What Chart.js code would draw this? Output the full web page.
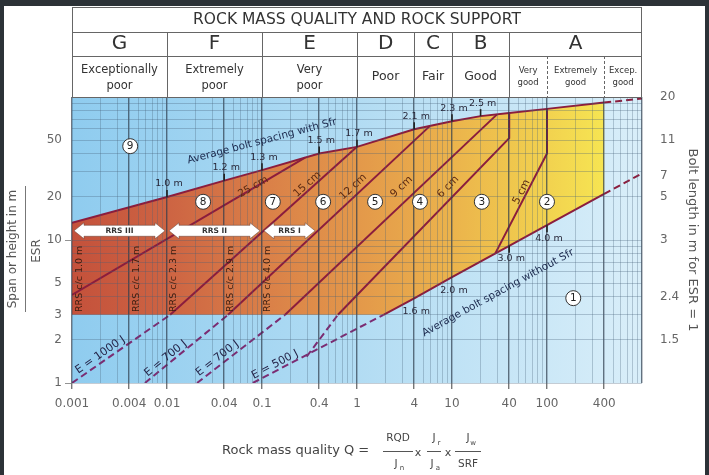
<!DOCTYPE html>
<html><head><meta charset="utf-8">
<script src="https://cdn.jsdelivr.net/npm/chart.js@4.4.1/dist/chart.umd.min.js"></script>
<style>
html,body{margin:0;padding:0;background:#2c3237;width:709px;height:475px;overflow:hidden}
#panel{position:absolute;left:4px;top:6px;width:701px;height:469px;background:#fff}
#c{position:absolute;left:0;top:0}
</style></head><body>
<div id="panel"></div>
<canvas id="c" width="709" height="475"></canvas>
<script>
// ---------------- DATA ----------------
const chartTitle = 'ROCK MASS QUALITY AND ROCK SUPPORT';
const classBounds = [0.001, 0.01, 0.1, 1, 4, 10, 40, 1000];
const classLetters = ['G','F','E','D','C','B','A'];
const classNames = [['Exceptionally','poor'],['Extremely','poor'],['Very','poor'],['Poor'],['Fair'],['Good']];
const subBounds = [40, 100, 400, 1000];
const subNames = [['Very','good'],['Extremely','good'],['Excep.','good']];

const xTickValues = [0.001,0.004,0.01,0.04,0.1,0.4,1,4,10,40,100,400];
const xTickLabels = ['0.001','0.004','0.01','0.04','0.1','0.4','1','4','10','40','100','400'];
const yTickValues = [1,2,3,5,10,20,50];
const yTickLabels = ['1','2','3','5','10','20','50'];
const boltTickValues = [100,50,28,20,10,4,2];
const boltTickLabels = ['20','11','7','5','3','2.4','1.5'];

// Average bolt spacing with Sfr (upper boundary)
const withSfrQ = [0.001,0.01,0.04,0.1,0.4,1,4,10,20,40,100,400];
const withSfrS = [13.2,20,26,30.8,40.3,44.8,59.5,67.6,73.5,77.3,82.6,91.4];
const withSfrSpacing = [null,'1.0 m','1.2 m','1.3 m','1.5 m','1.7 m','2.1 m','2.3 m','2.5 m',null,null,null];
const withSfrExtQ = [400,1000];
const withSfrExtS = [91.4,97.5];

// Average bolt spacing without Sfr (lower boundary)
const bottomQ = [0.001];
const bottomS = [3];
const withoutSfrQ = [1.9,4,10,40,100,400];
const withoutSfrS = [3,3.9,5.5,9.1,12.7,21];
const withoutSfrSpacing = [null,'1.6 m','2.0 m','3.0 m','4.0 m',null];
const withoutSfrTick = [false,false,false,true,true,false];
const withoutSfrExtQ = [400,1000];
const withoutSfrExtS = [21,29.2];

// shotcrete thickness lines and energy absorption (dashed) lines
const line25Q = [0.001,0.284],  line25S = [4.13,37.7];
const e1000Q = [0.001,0.0108],  e1000S = [1,3];
const line15Q = [0.0108,1],     line15S = [3,44.8];
const e700aQ = [0.00586,0.0439], e700aS = [1,3];
const line12Q = [0.0439,5.87],  line12S = [3,62.8];
const e700bQ = [0.0207,0.175],  e700bS = [1,3];
const line9Q = [0.175,29.8],    line9S = [3,75.6];
const e500Q = [0.08,1.9],       e500S = [1,3];
const line6dQ = [0.295,0.63],   line6dS = [1.53,3];
const line6Q = [0.63,40,40],    line6S = [3,51.5,77.3];
const line5Q = [28.4,100,100],  line5S = [8.0,40.3,82.6];

const shotLabels = ['25 cm','15 cm','12 cm','9 cm','6 cm','5 cm'];
const shotLabelQ = [0.081,0.3,0.91,2.95,9.1,54];
const shotLabelS = [23.5,24.5,23.5,23.5,23.5,21.7];

const energyLabels = ['E = 1000 J','E = 700 J','E = 700 J','E = 500 J'];
const energyLabelQ = [0.0021,0.0103,0.036,0.143];
const energyLabelS = [1.49,1.415,1.415,1.27];

const zoneNums = ['1','2','3','4','5','6','7','8','9'];
const zoneQ = [189,100,20.6,4.6,1.55,0.44,0.13,0.024,0.0041];
const zoneS = [3.92,18.5,18.5,18.5,18.5,18.5,18.5,18.5,45.3];

const rrsNames = ['RRS III','RRS II','RRS I'];
const rrsFromQ = [0.001,0.01,0.1];
const rrsToQ = [0.01,0.1,0.38];
const rrsS = 11.6;
const rrsCc = ['RRS c/c 1.0 m','RRS c/c 1.7 m','RRS c/c 2.3 m','RRS c/c 2.9 m','RRS c/c 4.0 m'];
const rrsCcQ = [0.00116,0.00468,0.0114,0.046,0.112];
const rrsCcS = 5.35;

const withSfrText = 'Average bolt spacing with Sfr';
const withSfrTextQ = 0.1, withSfrTextS = 49;
const withoutSfrText = 'Average bolt spacing without Sfr';
const withoutSfrTextQ = 30.5, withoutSfrTextS = 4.27;

// ---------------- HELPERS ----------------
const FONT = "'DejaVu Sans', Arial, sans-serif";
const LINE = '#8b1d3d';
const EDASH = '#7b2c72';
function pts(q,s){return q.map((v,i)=>({x:v,y:s[i]}));}
function ds(q,s,extra){return Object.assign({type:'line',data:pts(q,s),borderColor:LINE,borderWidth:2,pointRadius:0,pointHoverRadius:0,fill:false,tension:0,order:1},extra||{});}
function near(a,b){return Math.abs(a/b-1)<1e-6;}
function mant(v){const d=Math.floor(Math.log10(v)+1e-9);return v/Math.pow(10,d);}
function isMajor(v){const m=mant(v);return Math.abs(m-1)<1e-6||Math.abs(m-4)<1e-6;}
function logTicks(lo,hi){const t=[];for(let d=Math.round(Math.log10(lo));d<Math.round(Math.log10(hi));d++){for(let m=1;m<10;m++)t.push({value:m*Math.pow(10,d)});}t.push({value:hi});return t;}

const polyQ = withSfrQ.concat(withoutSfrQ.slice().reverse(), bottomQ);
const polyS = withSfrS.concat(withoutSfrS.slice().reverse(), bottomS);

const bgPlugin = {
  id:'bg',
  beforeDatasetsDraw(ch){
    const c=ch.ctx,a=ch.chartArea;
    const g=c.createLinearGradient(a.left,0,a.right,0);
    g.addColorStop(0,'#8fccef');g.addColorStop(0.5,'#b2dcf3');g.addColorStop(1,'#d9eef9');
    c.save();c.fillStyle=g;c.fillRect(a.left,a.top,a.right-a.left,a.bottom-a.top);c.restore();
  }
};

function rtext(c,txt,x,y,ang,font,color,off){
  c.save();c.translate(x,y);c.rotate(ang);c.font=font;c.fillStyle=color;c.textAlign='center';c.textBaseline='middle';c.fillText(txt,0,-(off||0));c.restore();
}

const annot = {
  id:'annot',
  afterDraw(ch){
    const c=ch.ctx,xs=ch.scales.x,ys=ch.scales.y;
    const X=v=>xs.getPixelForValue(v),Y=v=>ys.getPixelForValue(v);
    const ang=(q1,s1,q2,s2)=>Math.atan2(Y(s2)-Y(s1),X(q2)-X(q1));
    const L=xs.left,R=xs.right,T0=7,T1=32,T2=56,T3=ch.chartArea.top;
    c.save();
    // ---- header table ----
    c.fillStyle='#fff';c.fillRect(L,T0,R-L,T3-T0);
    c.strokeStyle='#666';c.lineWidth=1;
    const ln=(x1,y1,x2,y2)=>{c.beginPath();c.moveTo(x1,y1);c.lineTo(x2,y2);c.stroke();};
    c.strokeRect(L+0.5,T0+0.5,R-L-1,T3-T0);
    ln(L,T1+0.5,R,T1+0.5);ln(L,T2+0.5,R,T2+0.5);
    for(let i=1;i<classBounds.length-1;i++){const x=Math.round(X(classBounds[i]))+0.5;ln(x,T1,x,T3);}
    c.setLineDash([3,2]);
    for(let i=1;i<subBounds.length-1;i++){const x=Math.round(X(subBounds[i]))+0.5;ln(x,T2,x,T3);}
    c.setLineDash([]);
    c.fillStyle='#333';c.textAlign='center';c.textBaseline='middle';
    c.font='15.5px '+FONT;c.fillText(chartTitle,(L+R)/2,20);
    c.font='20px '+FONT;
    for(let i=0;i<classLetters.length;i++){const cx=(X(classBounds[i])+X(classBounds[i+1]))/2;c.fillText(classLetters[i],cx,44);}
    for(let i=0;i<classNames.length;i++){
      const cx=(X(classBounds[i])+X(classBounds[i+1]))/2;const n=classNames[i];
      if(n.length===2){c.font='11.5px '+FONT;c.fillText(n[0],cx,70);c.fillText(n[1],cx,86);}
      else{c.font='12.5px '+FONT;c.fillText(n[0],cx,77);}
    }
    c.font='8.5px '+FONT;
    for(let i=0;i<subNames.length;i++){const cx=(X(subBounds[i])+X(subBounds[i+1]))/2;c.fillText(subNames[i][0],cx,71);c.fillText(subNames[i][1],cx,83);}

    // ---- boundary spacing ticks and labels ----
    c.strokeStyle='#222';c.lineWidth=1.6;c.fillStyle='#2a2a3c';c.font='9.5px '+FONT;
    for(let i=0;i<withSfrQ.length;i++){
      if(!withSfrSpacing[i])continue;const px=X(withSfrQ[i]),py=Y(withSfrS[i]);
      ln(px,py,px,py-7);c.fillText(withSfrSpacing[i],px+2,py-13);
    }
    for(let i=0;i<withoutSfrQ.length;i++){
      if(!withoutSfrSpacing[i])continue;const px=X(withoutSfrQ[i]),py=Y(withoutSfrS[i]);
      if(withoutSfrTick[i])ln(px,py,px,py+7);c.fillText(withoutSfrSpacing[i],px+2,py+13);
    }
    // ---- boundary texts ----
    rtext(c,withSfrText,X(withSfrTextQ),Y(withSfrTextS),ang(0.01,20,1,44.8),'10.5px '+FONT,'#1d2b4f');
    rtext(c,withoutSfrText,X(withoutSfrTextQ),Y(withoutSfrTextS),ang(withoutSfrQ[0],withoutSfrS[0],withoutSfrQ[5],withoutSfrS[5]),'10.5px '+FONT,'#1d2b4f');
    // ---- shotcrete labels ----
    const shotLines=[[line25Q,line25S],[line15Q,line15S],[line12Q,line12S],[line9Q,line9S],[line6Q,line6S],[line5Q,line5S]];
    for(let i=0;i<shotLabels.length;i++){const [q,s]=shotLines[i];rtext(c,shotLabels[i],X(shotLabelQ[i]),Y(shotLabelS[i]),ang(q[0],s[0],q[1],s[1]),'10.5px '+FONT,'#5b2a12');}
    // ---- energy labels ----
    const eLines=[[e1000Q,e1000S],[e700aQ,e700aS],[e700bQ,e700bS],[e500Q,e500S]];
    for(let i=0;i<energyLabels.length;i++){const [q,s]=eLines[i];rtext(c,energyLabels[i],X(energyLabelQ[i]),Y(energyLabelS[i]),ang(q[0],s[0],q[1],s[1]),'11px '+FONT,'#26264a',4);}
    // ---- RRS c/c vertical labels ----
    for(let i=0;i<rrsCc.length;i++){rtext(c,rrsCc[i],X(rrsCcQ[i])+1,Y(rrsCcS),-Math.PI/2,'9.5px '+FONT,'#3b1d10');}
    // ---- RRS arrows ----
    const ay=Y(rrsS);
    for(let i=0;i<rrsNames.length;i++){
      const x1=X(rrsFromQ[i])+2,x2=X(rrsToQ[i])-2,hl=10,bh=5.5,hh=8;
      c.beginPath();c.moveTo(x1,ay);c.lineTo(x1+hl,ay-hh);c.lineTo(x1+hl,ay-bh);c.lineTo(x2-hl,ay-bh);c.lineTo(x2-hl,ay-hh);
      c.lineTo(x2,ay);c.lineTo(x2-hl,ay+hh);c.lineTo(x2-hl,ay+bh);c.lineTo(x1+hl,ay+bh);c.lineTo(x1+hl,ay+hh);c.closePath();
      c.fillStyle='#fff';c.fill();c.strokeStyle='rgba(110,70,60,0.7)';c.lineWidth=0.8;c.stroke();
      c.fillStyle='#333';c.font='bold 7.5px '+FONT;c.textAlign='center';c.textBaseline='middle';c.fillText(rrsNames[i],(x1+x2)/2,ay+0.5);
    }
    // ---- zone circles ----
    for(let i=0;i<zoneNums.length;i++){
      const px=X(zoneQ[i]),py=Y(zoneS[i]);
      c.beginPath();c.arc(px,py,7.5,0,Math.PI*2);c.fillStyle='#fff';c.fill();c.strokeStyle='#333';c.lineWidth=1;c.stroke();
      c.fillStyle='#222';c.font='10.5px '+FONT;c.textAlign='center';c.textBaseline='middle';c.fillText(zoneNums[i],px,py+0.5);
    }
    // ---- axis titles ----
    rtext(c,'Span or height in m',13,249,-Math.PI/2,'12px '+FONT,'#555');
    c.strokeStyle='#777';c.lineWidth=1;ln(25.5,186,25.5,312);
    rtext(c,'ESR',37,251,-Math.PI/2,'12px '+FONT,'#555');
    rtext(c,'Bolt length in m for ESR = 1',692,240,Math.PI/2,'13px '+FONT,'#555');
    // ---- formula ----
    c.fillStyle='#444';c.textBaseline='middle';
    c.font='13px '+FONT;c.textAlign='right';c.fillText('Rock mass quality',340,451);
    c.textAlign='left';c.fillText('Q =',344,451);
    const frac=(cx,w,num,den,dsub)=>{
      c.font='10.5px '+FONT;c.textAlign='center';c.fillText(num.t,cx,438);
      if(num.s){c.font='7px '+FONT;c.fillText(num.s,cx+5,443);}
      c.strokeStyle='#555';c.lineWidth=1;ln(cx-w/2,451.5,cx+w/2,451.5);
      c.font='10.5px '+FONT;c.fillText(den,cx-(dsub?2:0),464);
      if(dsub){c.font='7px '+FONT;c.fillText(dsub,cx+4,468);}
    };
    frac(398,30,{t:'RQD'},'J','n');
    c.font='11px '+FONT;c.textAlign='center';c.fillText('x',418,453);
    frac(434,14,{t:'J',s:'r'},'J','a');
    c.font='11px '+FONT;c.textAlign='center';c.fillText('x',448,453);
    frac(468,26,{t:'J',s:'w'},'SRF',null);
    c.restore();
  }
};

const fillGrad = (ctx)=>{
  const ch=ctx.chart,a=ch.chartArea;if(!a)return 'rgba(220,130,70,1)';
  const g=ch.ctx.createLinearGradient(a.left,0,a.right,0);
  g.addColorStop(0,'#c4513b');g.addColorStop(0.17,'#cd6443');g.addColorStop(0.33,'#d97e48');
  g.addColorStop(0.5,'#e3984a');g.addColorStop(0.66,'#ebb24c');g.addColorStop(0.77,'#efc64d');g.addColorStop(0.93,'#f6e452');
  return g;
};

const datasets = [
  {type:'line',data:pts(polyQ,polyS),fill:'shape',backgroundColor:fillGrad,borderWidth:0,pointRadius:0,tension:0,order:5},
  ds(withSfrQ,withSfrS),
  ds(withSfrExtQ,withSfrExtS,{borderDash:[7,4]}),
  ds(withoutSfrQ,withoutSfrS),
  ds(withoutSfrExtQ,withoutSfrExtS,{borderDash:[7,4]}),
  ds(line25Q,line25S),
  ds(e1000Q,e1000S,{borderColor:EDASH,borderDash:[7,4]}),
  ds(line15Q,line15S),
  ds(e700aQ,e700aS,{borderColor:EDASH,borderDash:[7,4]}),
  ds(line12Q,line12S),
  ds(e700bQ,e700bS,{borderColor:EDASH,borderDash:[7,4]}),
  ds(line9Q,line9S),
  ds(e500Q,e500S,{borderColor:EDASH,borderDash:[7,4]}),
  ds(line6dQ,line6dS,{borderColor:EDASH,borderDash:[7,4]}),
  ds(line6Q,line6S),
  ds(line5Q,line5S)
];

Chart.defaults.font.family = FONT;
new Chart(document.getElementById('c'),{
  type:'line',
  data:{datasets},
  options:{
    responsive:false,animation:false,
    layout:{padding:{top:97,left:0,right:0,bottom:0}},
    plugins:{legend:{display:false},tooltip:{enabled:false},title:{display:false}},
    scales:{
      x:{type:'logarithmic',position:'bottom',min:0.001,max:1000,
        afterBuildTicks:(s)=>{s.ticks=logTicks(0.001,1000);},
        afterFit:(s)=>{s.height=92;},
        border:{display:false},
        grid:{z:1,tickLength:6,
          color:(c)=>c.tick&&isMajor(c.tick.value)?'rgba(45,60,75,0.7)':'rgba(70,95,120,0.38)',
          lineWidth:(c)=>c.tick&&isMajor(c.tick.value)?1.4:0.8,
          tickColor:(c)=>c.tick&&xTickValues.some(v=>near(v,c.tick.value))?'#777':'rgba(0,0,0,0)'},
        ticks:{autoSkip:false,maxRotation:0,padding:8,color:'#666',font:{size:12},
          callback:(v)=>{const i=xTickValues.findIndex(t=>near(t,v));return i>=0?xTickLabels[i]:'';}}
      },
      y:{type:'logarithmic',position:'left',min:1,max:100,
        afterBuildTicks:(s)=>{s.ticks=logTicks(1,100);},
        afterFit:(s)=>{s.width=72;},
        border:{display:false},
        grid:{z:1,tickLength:7,color:'rgba(70,95,120,0.4)',lineWidth:0.8,
          tickColor:(c)=>c.tick&&(near(c.tick.value,1)||near(c.tick.value,10))?'#777':'rgba(0,0,0,0)'},
        ticks:{autoSkip:false,padding:3,color:'#666',font:{size:12},
          callback:(v)=>{const i=yTickValues.findIndex(t=>near(t,v));return i>=0?yTickLabels[i]:'';}}
      },
      y2:{type:'logarithmic',position:'right',min:1,max:100,
        afterBuildTicks:(s)=>{s.ticks=boltTickValues.map(v=>({value:v}));},
        afterFit:(s)=>{s.width=67;},
        border:{display:false},
        grid:{display:false,drawOnChartArea:false},
        ticks:{autoSkip:false,padding:10,color:'#666',font:{size:12},
          callback:(v)=>{const i=boltTickValues.findIndex(t=>near(t,v));return i>=0?boltTickLabels[i]:'';}}
      }
    }
  },
  plugins:[bgPlugin,annot]
});
</script>
</body></html>
